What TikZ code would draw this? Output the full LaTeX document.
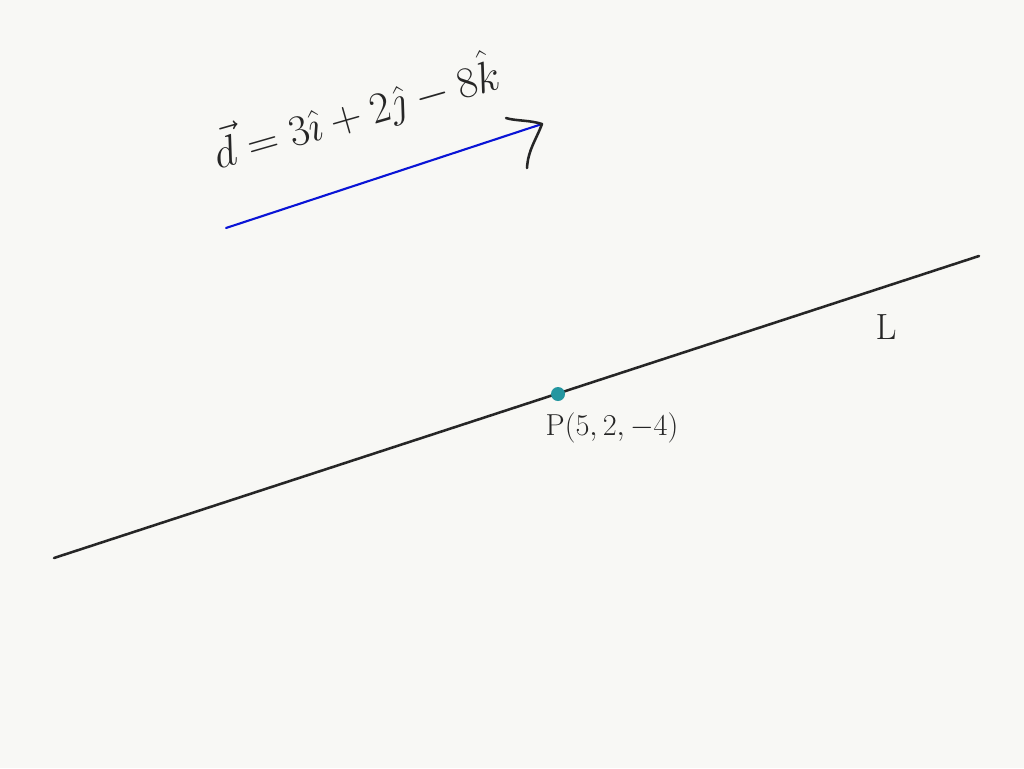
\documentclass[tikz,border=0pt]{standalone}
\usepackage{amsmath}
\definecolor{bg}{HTML}{F8F8F5}
\definecolor{ink}{HTML}{262626}
\definecolor{vecblue}{HTML}{0A14D6}
\definecolor{teal}{HTML}{2496A0}
\tikzset{
  inkline/.style={draw=ink, line width=1.45pt, line cap=round, line join=round},
  blueline/.style={draw=vecblue, line width=1.2pt, line cap=round},
  lbl/.style={text=ink, inner sep=0pt}
}
\begin{document}
\begin{tikzpicture}[x=0.02cm, y=-0.02cm]
\fill[bg] (0,0) rectangle (1024,768);
\useasboundingbox (0,0) rectangle (1024,768);
% line L
\coordinate (L0) at (54,558);
\coordinate (L1) at (979,256);
\draw[inkline] (L0) -- (L1);
% point P
\coordinate (P) at (558,394);
\fill[teal] (P) circle (7);
\node[lbl, font=\fontsize{18}{22}\selectfont] (Plabel) at (612,428) {$\mathrm{P}(5,2,-4)$};
\node[lbl, font=\fontsize{21}{24}\selectfont] (Llabel) at (886,327) {$\mathrm{L}$};
% direction vector
\coordinate (d0) at (226,228);
\coordinate (d1) at (542,124);
\draw[blueline] (d0) -- (d1);
\draw[inkline] (506,118) .. controls (515,121) and (530,120) .. (d1) .. controls (536,140) and (528,150) .. (527,168);
\node[lbl, rotate=16, font=\fontsize{24}{27}\selectfont] (dlabel) at (356,112) {$\vec{d} = 3\hat{\imath} + 2\hat{\jmath} - 8\hat{k}$};
\end{tikzpicture}
\end{document}
